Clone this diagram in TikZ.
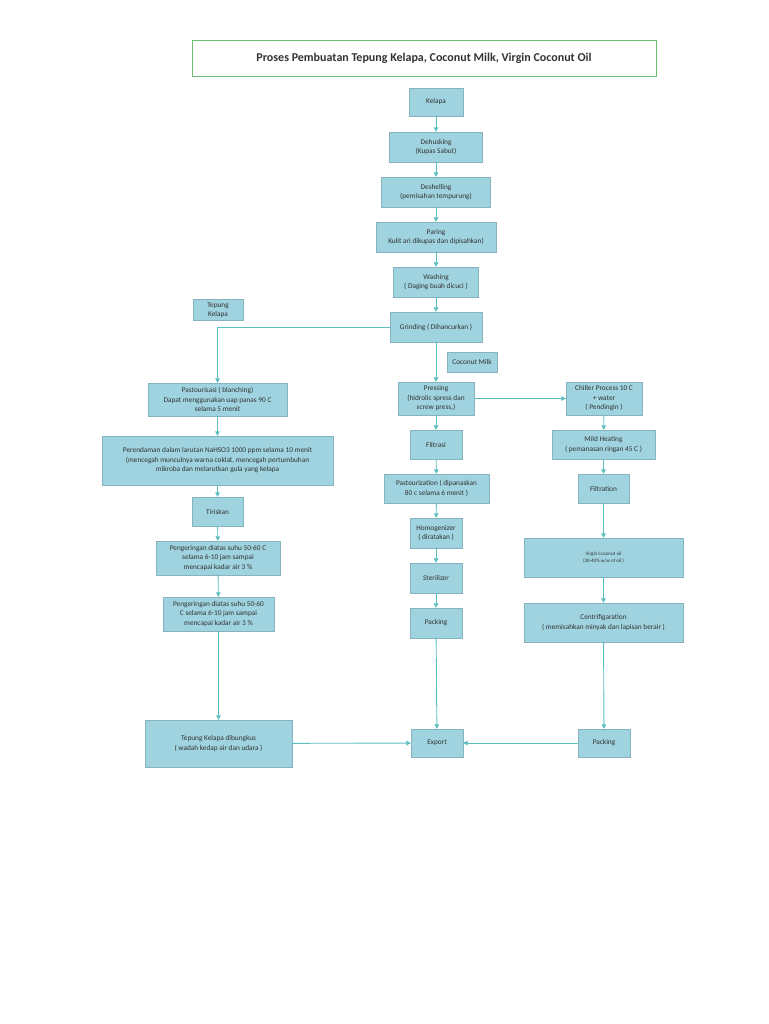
\documentclass[tikz,border=0pt]{standalone}
\usepackage{fontspec}
\setmainfont{Carlito}
\usetikzlibrary{arrows.meta}
\definecolor{bx}{HTML}{9FD3DF}
\definecolor{ar}{HTML}{5BBFC0}
\definecolor{tg}{HTML}{6CC070}
\tikzset{
 b/.style={fill=bx,draw=bx!85!black,line width=0.3pt,inner sep=1pt,align=center,font=\fontsize{7.3}{9.5}\selectfont,text=black!80},
 a/.style={draw=ar,line width=0.9pt,-{Triangle[length=4.5pt,width=4.5pt]}},
}
\newcommand{\bxn}[6]{\node[b,minimum width=#4,minimum height=#5] (#1) at (#2,#3) {#6};}
\begin{document}
\begin{tikzpicture}[x=1pt,y=-1pt]
\useasboundingbox[fill=white] (0,0) rectangle (768,1024);
\node[draw=tg,line width=0.8pt,minimum width=464,minimum height=36,font=\bfseries\fontsize{12}{14}\selectfont,text=black!80] (title) at (424,58) {Proses Pembuatan Tepung Kelapa, Coconut Milk, Virgin Coconut Oil};
\bxn{kel}{436}{102}{54}{28}{Kelapa}
\bxn{deh}{436}{147}{93}{30}{Dehusking\\(Kupas Sabut)}
\bxn{desh}{436}{192}{109}{30}{Deshelling\\(pemisahan tempurung)}
\bxn{par}{436}{237}{120}{30}{Paring\\Kulit ari dikupas dan dipisahkan)}
\bxn{was}{436}{282}{85}{30}{Washing\\( Daging buah dicuci )}
\bxn{gri}{436}{327}{92}{30}{Grinding ( Dihancurkan )}
\bxn{tep}{218}{310}{50}{21}{Tepung\\Kelapa}
\bxn{cm}{472}{362}{50}{20}{Coconut Milk}
\bxn{pre}{436}{398.5}{76}{33}{Pressing\\(hidrolic spress dan\\screw press,)}
\bxn{chi}{604}{398.5}{76}{33}{Chiller Process 10 C\\+ water\\( Pendingin )}
\bxn{fil}{436}{444.5}{52}{29}{Filtrasi}
\bxn{mil}{603.5}{444.5}{103}{29}{Mild Heating\\( pemanasan ringan 45 C )}
\bxn{pas}{436.5}{488.5}{105}{29}{Pasteurization ( dipanaskan\\80 c selama 6 menit )}
\bxn{filt}{603.5}{488.5}{51}{29}{Filtration}
\bxn{hom}{436}{533}{52}{30}{Homogenizer\\( diratakan )}
\bxn{ste}{436}{578}{52}{30}{Sterilizer}
\bxn{pac}{436}{623}{52}{30}{Packing}
\node[b,minimum width=159,minimum height=39,font=\fontsize{5}{7}\selectfont] (vco) at (603.5,557.5) {Virgin Coconut oil\\(30-40\% w/w of oil )};
\bxn{cen}{603.5}{622.5}{159}{39}{Centrifigaration\\( memisahkan minyak dan lapisan berair )}
\bxn{pst}{217.5}{399.5}{139}{33}{Pastourisasi ( blanching)\\Dapat menggunakan uap panas 90 C\\selama 5 menit}
\bxn{per}{217.5}{460.5}{231}{49}{Perendaman dalam larutan NaHSO3 1000 ppm selama 10 menit\\(mencegah munculnya warna coklat, mencegah pertumbuhan\\mikroba dan melarutkan gula yang kelapa}
\bxn{tir}{217.5}{511.5}{51}{29}{Tiriskan}
\bxn{pg1}{218}{558}{124}{34}{Pengeringan diatas suhu 50-60 C\\selama 6-10 jam sampai\\mencapai kadar air 3 \%}
\bxn{pg2}{218.5}{614}{111}{34}{Pengeringan diatas suhu 50-60\\C selama 6-10 jam sampai\\mencapai kadar air 3 \%}
\bxn{tdb}{218.5}{743.5}{147}{47}{Tepung Kelapa dibungkus\\( wadah kedap air dan udara )}
\bxn{exp}{437}{743}{52}{28}{Export}
\bxn{pkr}{604}{743}{52}{28}{Packing}
\draw[a] (kel) -- (deh);
\draw[a] (deh) -- (desh);
\draw[a] (desh) -- (par);
\draw[a] (par) -- (was);
\draw[a] (was) -- (gri);
\draw[a] (gri) -- (pre);
\draw[a] (gri.west) -| (pst.north);
\draw[a] (pre) -- (chi);
\draw[a] (pre) -- (fil);
\draw[a] (fil) -- (pas);
\draw[a] (pas) -- (hom);
\draw[a] (hom) -- (ste);
\draw[a] (ste) -- (pac);
\draw[a] (pac) -- (exp);
\draw[a] (chi) -- (mil);
\draw[a] (mil) -- (filt);
\draw[a] (filt) -- (vco);
\draw[a] (vco) -- (cen);
\draw[a] (cen) -- (pkr);
\draw[a] (pkr) -- (exp);
\draw[a] (tdb) -- (exp);
\draw[a] (pst) -- (per);
\draw[a] (per) -- (tir);
\draw[a] (tir) -- (pg1);
\draw[a] (pg1) -- (pg2);
\draw[a] (pg2) -- (tdb);
\end{tikzpicture}
\end{document}
